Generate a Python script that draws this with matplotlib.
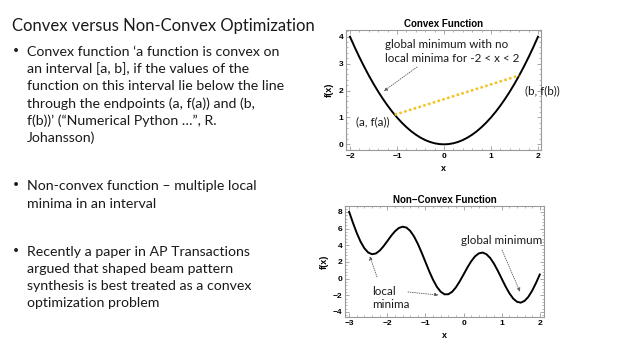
import matplotlib.pyplot as plt
from matplotlib.ticker import AutoMinorLocator

# convex curve f(x)
convex_x = [-2.0, -1.9, -1.8, -1.7, -1.6, -1.5, -1.4, -1.3, -1.2, -1.1, -1.0,
            -0.9, -0.8, -0.7, -0.6, -0.5, -0.4, -0.3, -0.2, -0.1, 0.0,
            0.1, 0.2, 0.3, 0.4, 0.5, 0.6, 0.7, 0.8, 0.9, 1.0,
            1.1, 1.2, 1.3, 1.4, 1.5, 1.6, 1.7, 1.8, 1.9, 2.0]
convex_y = [4.00, 3.61, 3.24, 2.89, 2.56, 2.25, 1.96, 1.69, 1.44, 1.21, 1.00,
            0.81, 0.64, 0.49, 0.36, 0.25, 0.16, 0.09, 0.04, 0.01, 0.00,
            0.01, 0.04, 0.09, 0.16, 0.25, 0.36, 0.49, 0.64, 0.81, 1.00,
            1.21, 1.44, 1.69, 1.96, 2.25, 2.56, 2.89, 3.24, 3.61, 4.00]
# chord between (a, f(a)) and (b, f(b))
chord_x = [-1.05, 1.6]
chord_y = [1.10, 2.56]

# non-convex curve
nonconvex_x = [-3.0, -2.9, -2.8, -2.7, -2.6, -2.5, -2.4, -2.3, -2.2, -2.1, -2.0,
               -1.9, -1.8, -1.7, -1.6, -1.5, -1.4, -1.3, -1.2, -1.1, -1.0,
               -0.9, -0.8, -0.7, -0.6, -0.5, -0.4, -0.3, -0.2, -0.1, 0.0,
               0.1, 0.2, 0.3, 0.4, 0.5, 0.6, 0.7, 0.8, 0.9, 1.0,
               1.1, 1.2, 1.3, 1.4, 1.5, 1.6, 1.7, 1.8, 1.9, 2.0]
nonconvex_y = [8.00, 6.68, 5.46, 4.42, 3.63, 3.13, 2.93, 3.02, 3.36, 3.88, 4.50,
               5.13, 5.68, 6.07, 6.23, 6.13, 5.73, 5.07, 4.18, 3.13, 2.00,
               0.88, -0.14, -0.98, -1.57, -1.88, -1.87, -1.58, -1.04, -0.32, 0.50,
               1.33, 2.08, 2.67, 3.03, 3.13, 2.93, 2.47, 1.78, 0.93, 0.00,
               -0.92, -1.74, -2.38, -2.77, -2.88, -2.67, -2.18, -1.44, -0.52, 0.50]

W, H = 638, 359
fig = plt.figure(figsize=(W / 100, H / 100), dpi=100)
fig.patch.set_facecolor('white')

slide_font = ['Lato', 'DejaVu Sans']
plot_font = ['Liberation Sans', 'DejaVu Sans']
ink = '#1a1a1a'


def fy(y):
    # image row -> figure fraction
    return 1 - y / H


def fx(x):
    return x / W


# slide text
fig.text(fx(12), fy(26.5), 'Convex versus Non-Convex Optimization', family=slide_font,
         fontsize=12.0, va='center', ha='left', color=ink)

bullets = [
    (51.5, ['Convex function \u2018a function is convex on',
            'an interval [a, b], if the values of the',
            'function on this interval lie below the line',
            'through the endpoints (a, f(a)) and (b,',
            'f(b))\u2019 (\u201cNumerical Python \u2026\u201d, R.',
            'Johansson)']),
    (186.5, ['Non-convex function \u2013 multiple local',
             'minima in an interval']),
    (251.5, ['Recently a paper in AP Transactions',
             'argued that shaped beam pattern',
             'synthesis is best treated as a convex',
             'optimization problem']),
]
line_h = 17.3
for y0, lines in bullets:
    fig.text(fx(12.5), fy(y0 - 1.5), '\u2022', family=slide_font, fontsize=7.5,
             va='center', ha='left', color=ink)
    for i, line in enumerate(lines):
        fig.text(fx(27), fy(y0 + i * line_h), line, family=slide_font, fontsize=10.2,
                 va='center', ha='left', color=ink)


def style_axes(ax, title):
    for s in ax.spines.values():
        s.set_color('#9a9a9a')
        s.set_linewidth(0.8)
    ax.tick_params(which='both', direction='in', color='#9a9a9a', top=True, right=True,
                   labeltop=False, labelright=False, pad=2)
    ax.tick_params(which='major', length=3, width=0.6)
    ax.tick_params(which='minor', length=1.5, width=0.5)
    ax.xaxis.set_minor_locator(AutoMinorLocator(5))
    ax.yaxis.set_minor_locator(AutoMinorLocator(5))
    for lab in ax.get_xticklabels() + ax.get_yticklabels():
        lab.set_fontfamily(plot_font)
        lab.set_fontweight('bold')
        lab.set_fontsize(6)
    ax.set_title(title, family=plot_font, fontweight='bold', fontsize=7, pad=2)
    ax.set_xlabel('x', family=plot_font, fontweight='bold', fontsize=6.5, labelpad=3)
    ax.set_ylabel('f(x)', family=plot_font, fontweight='bold', fontsize=6.5, labelpad=3)


# top: convex function
ax1 = fig.add_axes([fx(346), fy(150), fx(541 - 346), (150 - 30) / H])
ax1.plot(convex_x, convex_y, color='black', lw=1.4)
ax1.plot(chord_x, chord_y, color='#f2c21b', lw=1.8, ls=(0, (1, 1)))
ax1.set_xlim(-2.085, 2.064)
ax1.set_ylim(-0.21, 4.25)
ax1.set_xticks([-2, -1, 0, 1, 2])
ax1.set_yticks([0, 1, 2, 3, 4])
style_axes(ax1, 'Convex Function')

ann_font = dict(family=slide_font, fontsize=8.4, color=ink)
arrow = dict(arrowstyle='-|>', color='#555555', lw=0.6, ls=':', mutation_scale=5,
             shrinkA=0, shrinkB=0)
ax1.annotate('', xy=(-1.28, 1.98), xycoords='data',
             xytext=(417, H - 67), textcoords='figure pixels', arrowprops=arrow)
fig.text(fx(385), fy(44), 'global minimum with no', va='center', ha='left', **ann_font)
fig.text(fx(385), fy(58.5), 'local minima for -2 < x < 2', va='center', ha='left', **ann_font)
fig.text(fx(356), fy(122), '(a, f(a))', va='center', ha='left', **ann_font)
fig.text(fx(525), fy(91), '(b, f(b))', va='center', ha='left', **ann_font)

# bottom: non-convex function
ax2 = fig.add_axes([fx(345), fy(317), fx(544 - 345), (317 - 205.7) / H])
ax2.plot(nonconvex_x, nonconvex_y, color='black', lw=1.4)
ax2.set_xlim(-3.11, 2.11)
ax2.set_ylim(-4.6, 8.75)
ax2.set_xticks([-3, -2, -1, 0, 1, 2])
ax2.set_yticks([-4, -2, 0, 2, 4, 6, 8])
style_axes(ax2, 'Non\u2212Convex Function')

ax2.annotate('', xy=(-2.46, 2.70), xytext=(377, H - 277), textcoords='figure pixels',
             arrowprops=arrow)
ax2.annotate('', xy=(-0.66, -1.97), xytext=(408, H - 292), textcoords='figure pixels',
             arrowprops=arrow)
ax2.annotate('', xy=(1.48, -1.57), xytext=(502, H - 250), textcoords='figure pixels',
             arrowprops=arrow)
fig.text(fx(461), fy(240), 'global minimum', va='center', ha='left', **ann_font)
fig.text(fx(372), fy(291.5), 'local', va='center', ha='left', **ann_font)
fig.text(fx(372), fy(305), 'minima', va='center', ha='left', **ann_font)

fig.savefig('out.png', dpi=100, facecolor='white')
